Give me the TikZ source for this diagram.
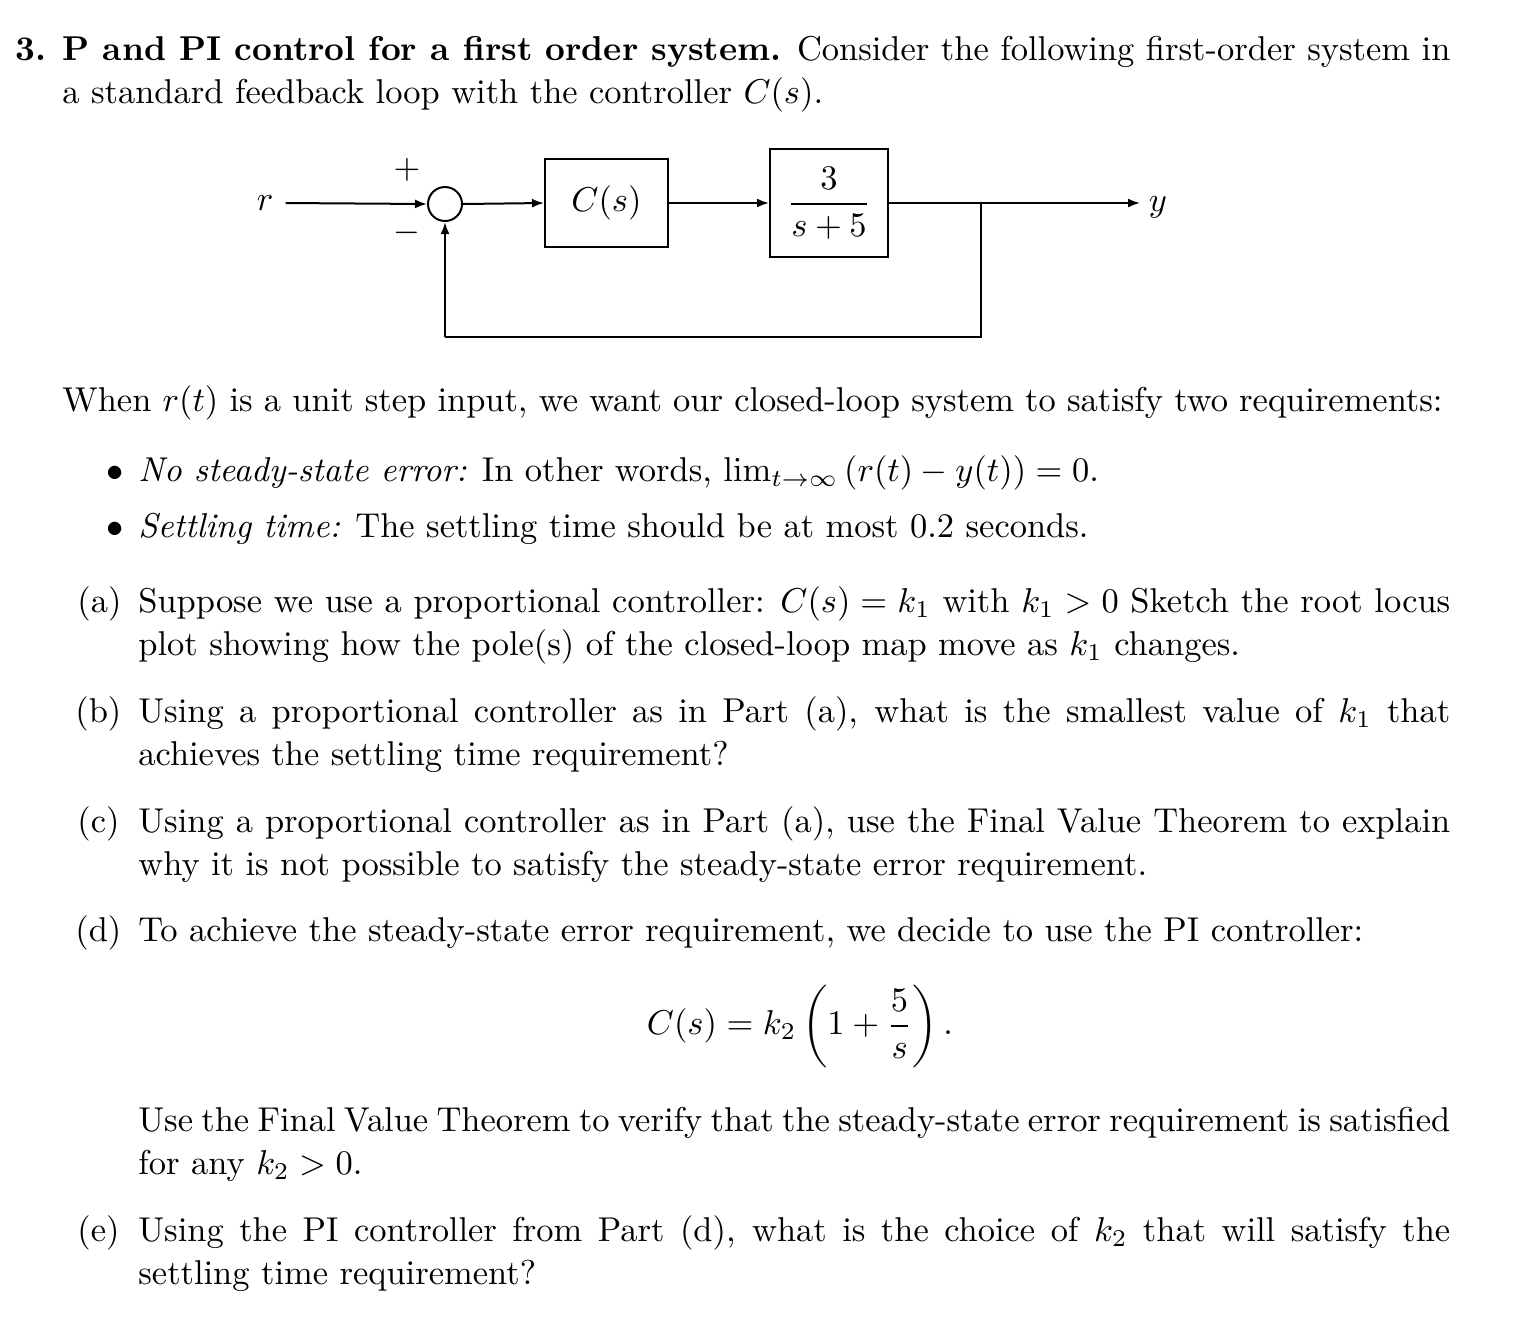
\documentclass[tikz,border=0pt]{standalone}
\usepackage{amsmath}
\usepackage{graphicx}
\usetikzlibrary{arrows.meta}
\newcommand{\Sc}[1]{\scalebox{1.723}{#1}}
\begin{document}
\begin{tikzpicture}[x=0.5pt,y=-0.5pt,
  txt/.style={anchor=base west,inner sep=0pt},
  blk/.style={draw,line width=1pt,inner sep=0pt},
  sig/.style={line width=1pt,-{Latex[length=6pt,width=4.5pt]}},
  wire/.style={line width=1pt},
  lbl/.style={inner sep=0pt}]
\useasboundingbox (0,0) rectangle (1536,1330);
\newcommand{\jl}[3]{\node[txt] at (#1) {\Sc{\makebox[#2pt][s]{#3}}};}
% header
\node[txt] at (15,60) {\Sc{\textbf{3.}}};
\jl{62,60}{402.8}{\textbf{P and PI control for a first order system.} Consider the following first-order system in}
\node[txt] at (62,103) {\Sc{a standard feedback loop with the controller $C(s)$.}};
% diagram
\node[lbl] (r) at (265,203) {\Sc{$r$}};
\node[draw,circle,line width=1pt,minimum size=17pt,inner sep=0pt] (sum) at (445,204) {};
\node[blk,minimum width=61.5pt,minimum height=44pt] (C) at (606.5,203) {\Sc{$C(s)$}};
\node[blk,minimum width=59pt,minimum height=54pt] (G) at (829,203) {\Sc{$\dfrac{3}{s+5}$}};
\node[lbl] (y) at (1158,207) {\Sc{$y$}};
\coordinate (br) at (981,203);
\coordinate (bd) at (981,337);
\coordinate (bl) at (445,337);
\coordinate (yend) at (1140,203);
\node[lbl] (plus) at (407,170) {\Sc{$+$}};
\node[lbl] (minus) at (407,233) {\Sc{$-$}};
\draw[sig] (r.east)++(12,0) -- (sum.west);
\draw[sig] (sum.east) -- (C.west);
\draw[sig] (C.east) -- (G.west);
\draw[sig] (G.east) -- (yend);
\draw[wire] (br) -- (bd) -- (bl);
\draw[sig] (bl) -- (sum.south);
% text
\jl{62,411}{400.5}{When $r(t)$ is a unit step input, we want our closed-loop system to satisfy two requirements:}
\node[txt] at (106,481) {\Sc{$\bullet$}};
\node[txt] at (138,481) {\Sc{\textit{No steady-state error:} In other words, $\lim_{t\to\infty}\,(r(t)-y(t))=0$.}};
\node[txt] at (106,537) {\Sc{$\bullet$}};
\node[txt] at (138,537) {\Sc{\textit{Settling time:} The settling time should be at most 0.2 seconds.}};
\node[txt] at (77,612) {\Sc{(a)}};
\jl{138,612}{380.7}{Suppose we use a proportional controller: $C(s)=k_1$ with $k_1>0$ Sketch the root locus}
\node[txt] at (138,655) {\Sc{plot showing how the pole(s) of the closed-loop map move as $k_1$ changes.}};
\node[txt] at (75,722) {\Sc{(b)}};
\jl{138,722}{380.7}{Using a proportional controller as in Part (a), what is the smallest value of $k_1$ that}
\node[txt] at (138,765) {\Sc{achieves the settling time requirement?}};
\node[txt] at (77,832) {\Sc{(c)}};
\jl{138,832}{380.7}{Using a proportional controller as in Part (a), use the Final Value Theorem to explain}
\node[txt] at (138,875) {\Sc{why it is not possible to satisfy the steady-state error requirement.}};
\node[txt] at (75,941) {\Sc{(d)}};
\node[txt] at (138,941) {\Sc{To achieve the steady-state error requirement, we decide to use the PI controller:}};
\node[lbl] (eq) at (800,1026) {\Sc{$\displaystyle C(s)=k_2\left(1+\frac{5}{s}\right).$}};
\jl{138,1131}{380.7}{Use the Final Value Theorem to verify that the steady-state error requirement is satisfied}
\node[txt] at (138,1174) {\Sc{for any $k_2>0$.}};
\node[txt] at (77,1241) {\Sc{(e)}};
\jl{138,1241}{380.7}{Using the PI controller from Part (d), what is the choice of $k_2$ that will satisfy the}
\node[txt] at (138,1284) {\Sc{settling time requirement?}};
\end{tikzpicture}
\end{document}
